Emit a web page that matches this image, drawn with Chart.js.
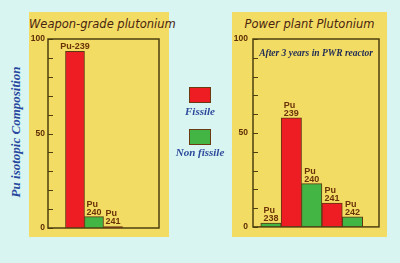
<!DOCTYPE html>
<html>
<head>
<meta charset="utf-8">
<script src="https://cdn.jsdelivr.net/npm/chart.js@4.4.1/dist/chart.umd.min.js"></script>
<style>
html, body { margin: 0; padding: 0; }
body { width: 400px; height: 263px; background: #d8f5f1; position: relative; overflow: hidden; font-family: "DejaVu Sans", sans-serif; }
.panel { position: absolute; top: 12px; height: 225px; background: #f3dc63; }
.panel canvas { position: absolute; left: 0; top: 0; }
.ptitle { position: absolute; left: 0; right: 0; top: 5px; line-height: 14px; text-align: center; font-style: italic; font-size: 11.5px; color: #4a2410; white-space: nowrap; }
.serif { font-family: "Liberation Serif", serif; font-weight: bold; font-style: italic; white-space: nowrap; }
.note { position: absolute; left: 21px; width: 126px; top: 35px; line-height: 12px; text-align: center; font-size: 9.5px; color: #1e2a55; }
.box { position: absolute; left: 189px; width: 20px; height: 14px; border: 1px solid #6a3a12; }
.legtext { position: absolute; left: 150px; width: 100px; text-align: center; font-size: 11px; line-height: 14px; color: #2d4a9c; }
.ytitle { position: absolute; left: -84px; top: 124px; width: 200px; height: 16px; line-height: 16px; text-align: center; font-size: 13px; color: #2848a0; transform: rotate(-90deg); }
</style>
</head>
<body>
<div class="ytitle serif">Pu isotopic Composition</div>

<div class="panel" style="left:29px;width:140px;">
  <div class="ptitle">Weapon-grade plutonium</div>
  <canvas id="weapon" width="140" height="225"></canvas>
</div>

<div class="box" style="top:87px;background:#ee1d24;"></div>
<div class="legtext serif" style="top:104px;">Fissile</div>
<div class="box" style="top:129px;background:#43b545;"></div>
<div class="legtext serif" style="top:145px;">Non fissile</div>

<div class="panel" style="left:232px;width:155px;">
  <div class="ptitle">Power plant Plutonium</div>
  <canvas id="power" width="155" height="225"></canvas>
  <div class="note serif">After 3 years in PWR reactor</div>
</div>

<script>
// weapon-grade plutonium
const weaponLabels = ["Pu-239", "Pu 240", "Pu 241"];
const weaponValues = [93.5, 6, 0.8];
const weaponFissile = [true, false, true];

// power plant plutonium, after 3 years in PWR reactor
const powerLabels = ["Pu 238", "Pu 239", "Pu 240", "Pu 241", "Pu 242"];
const powerValues = [2, 58, 23, 12.7, 5.3];
const powerFissile = [false, true, false, true, false];

const yTicks = [0, 50, 100];

const RED = "#ee1d24";
const GREEN = "#43b545";
const INK = "#5c2c06";

// frame, inner ticks and bar labels
const framePlugin = {
    id: "frame",
    afterDatasetsDraw(chart)
    {
        const ctx = chart.ctx;
        const a = chart.chartArea;
        const y = chart.scales.y;
        ctx.save();
        ctx.strokeStyle = "#4e3f10";
        ctx.lineWidth = 1;
        y.ticks.forEach(t => {
            const py = Math.round(y.getPixelForValue(t.value)) + 0.5;
            ctx.beginPath();
            ctx.moveTo(a.left, py);
            ctx.lineTo(a.left + 5, py);
            ctx.stroke();
        });
        ctx.lineWidth = 1.5;
        ctx.strokeRect(a.left, a.top, a.right - a.left, a.bottom - a.top);

        const meta = chart.getDatasetMeta(0);
        ctx.font = "bold 9px 'Liberation Sans', Arial, sans-serif";
        ctx.fillStyle = "#6b3208";
        ctx.textAlign = "left";
        ctx.textBaseline = "alphabetic";
        meta.data.forEach((bar, i) => {
            const lines = chart.data.labels[i].split(" ");
            const w = Math.max(...lines.map(l => ctx.measureText(l).width));
            lines.forEach((l, j) => {
                ctx.fillText(l, bar.x - w / 2, bar.y - 2 - (lines.length - 1 - j) * 8);
            });
        });
        ctx.restore();
    }
};

function makeChart(id, labels, values, fissile, xMin, xMax, axisWidth, labelPad, rightPad)
{
    return new Chart(document.getElementById(id), {
        type: "bar",
        data: {
            labels,
            datasets: [{
                data: values.map((v, i) => ({ x: i + 1, y: v })),
                backgroundColor: fissile.map(f => f ? RED : GREEN),
                borderColor: "#5e3512",
                borderWidth: 1,
                barPercentage: 1,
                categoryPercentage: 1
            }]
        },
        options: {
            responsive: false,
            animation: false,
            layout: { padding: { top: 27, bottom: 9, left: 0, right: rightPad } },
            plugins: { legend: { display: false }, tooltip: { enabled: false } },
            scales: {
                x: {
                    type: "linear",
                    min: xMin,
                    max: xMax,
                    offset: false,
                    display: false,
                    afterBuildTicks: s => { s.ticks = values.map((v, i) => ({ value: i + 1 })); }
                },
                y: {
                    min: 0,
                    max: 100,
                    afterFit: s => { s.width = axisWidth; },
                    grid: { display: false, drawTicks: false },
                    border: { display: false },
                    ticks: {
                        stepSize: 10,
                        autoSkip: false,
                        padding: labelPad,
                        color: INK,
                        font: { family: "'Liberation Sans', Arial, sans-serif", size: 8.5, weight: "bold" },
                        callback: v => yTicks.includes(v) ? v : ""
                    }
                }
            }
        },
        plugins: [framePlugin]
    });
}

makeChart("weapon", weaponLabels, weaponValues, weaponFissile, -0.42, 5.42, 19, 3, 10);
makeChart("power", powerLabels, powerValues, powerFissile, 0.12, 6.3, 21, 5, 8);
</script>
</body>
</html>
